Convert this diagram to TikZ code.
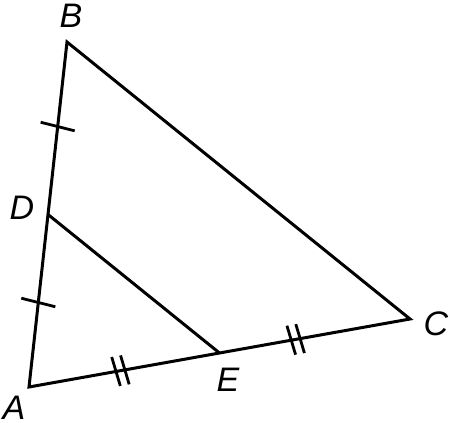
\documentclass[tikz,border=0pt]{standalone}
\usepackage{fontspec}
\setmainfont{Liberation Sans}
\usetikzlibrary{calc, decorations.markings}
\tikzstyle{side} = [line width=1.5pt, line join=miter]
\tikzstyle{vlabel} = [inner sep=0pt, font=\fontsize{17}{20}\selectfont\itshape]
\tikzstyle{onetick} = [postaction={decorate}, decoration={markings,
  mark=at position 0.245 with {\draw[line width=1.4pt] (-1.2pt,-8.7pt) -- (1.2pt,8.7pt);},
  mark=at position 0.755 with {\draw[line width=1.4pt] (-1.2pt,-8.7pt) -- (1.2pt,8.7pt);}}]
\tikzstyle{twotick} = [postaction={decorate}, decoration={markings,
  mark=at position 0.24 with {\draw[line width=1.4pt] (-1.4pt,-7.5pt) -- (-3.1pt,7.5pt) (3.1pt,-7.5pt) -- (1.4pt,7.5pt);},
  mark=at position 0.70 with {\draw[line width=1.4pt] (-1.4pt,-7.5pt) -- (-3.1pt,7.5pt) (3.1pt,-7.5pt) -- (1.4pt,7.5pt);}}]

\begin{document}
\begin{tikzpicture}[x=0.5pt, y=-0.5pt]
\useasboundingbox (0,0) rectangle (450,423);
%vertices
\coordinate (A) at (29,387);
\coordinate (B) at (67,42);
\coordinate (C) at (410,319);
\coordinate (D) at ($(A)!0.5!(B)$);
\coordinate (E) at ($(A)!0.5!(C)$);
%labels
\node (labA) [vlabel] at (14,408) {A};
\node (labB) [vlabel] at (71,16) {B};
\node (labC) [vlabel] at (436,324) {C};
\node (labD) [vlabel] at (22,208) {D};
\node (labE) [vlabel] at (228,380) {E};
%sides
\draw [side] (A) -- (B) -- (C) -- cycle;
\draw [side] (D) -- (E);
\path [onetick] (A) -- (B);
\path [twotick] (A) -- (C);
\end{tikzpicture}
\end{document}
